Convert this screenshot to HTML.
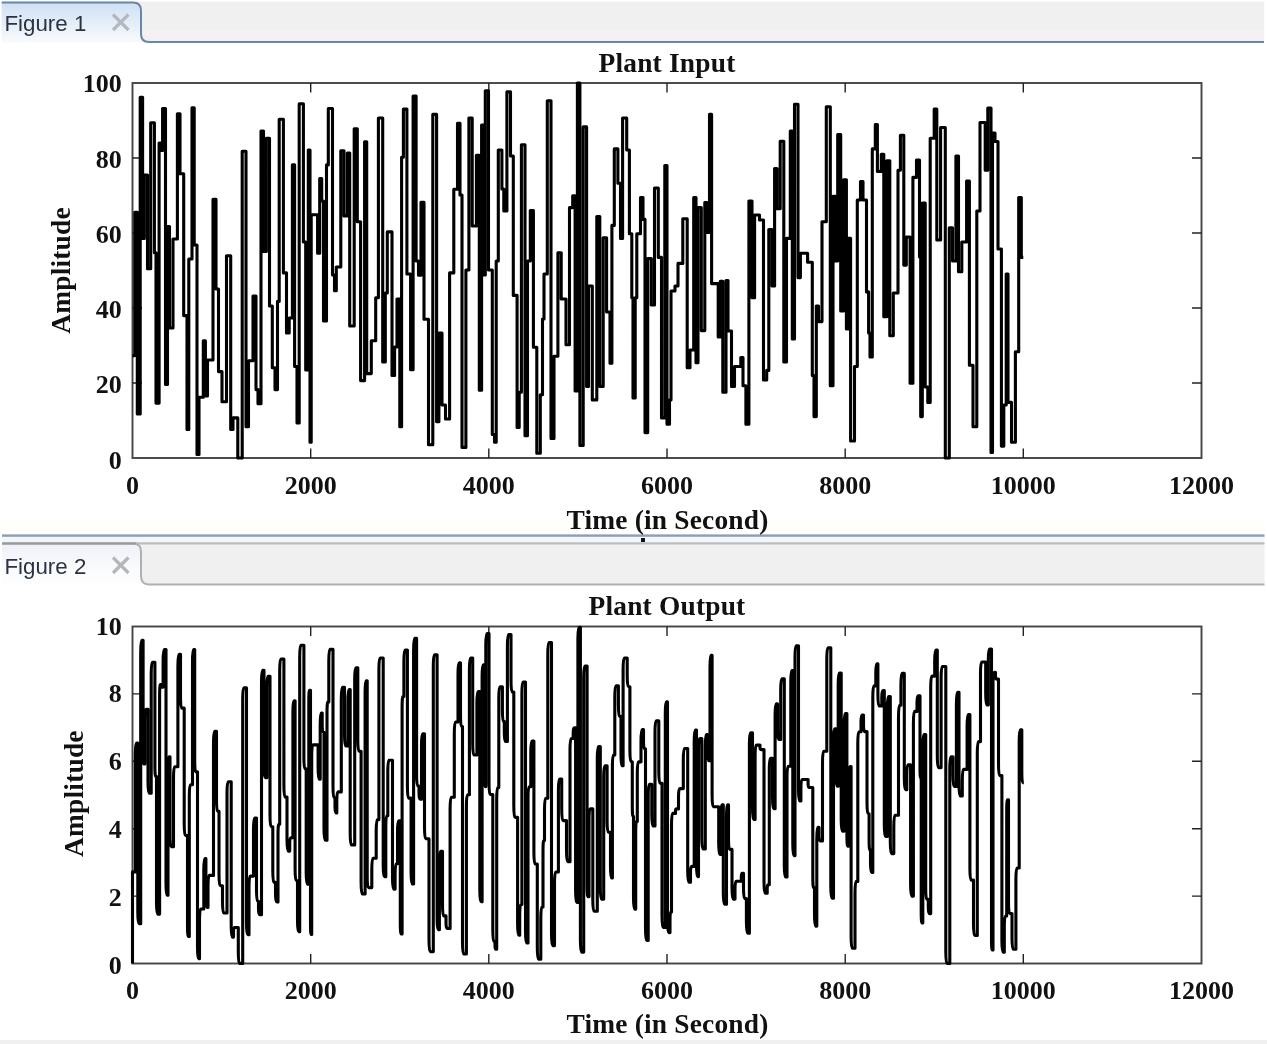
<!DOCTYPE html>
<html><head><meta charset="utf-8"><title>Figures</title>
<style>
html,body{margin:0;padding:0;background:#fff;}
body{width:1267px;height:1044px;overflow:hidden;position:relative;font-family:"Liberation Sans",sans-serif;}
svg{position:absolute;left:0;top:0;display:block}
.tk{font-family:"Liberation Serif",serif;font-weight:bold;font-size:26px;fill:#111}
.lb{font-family:"Liberation Serif",serif;font-weight:bold;font-size:27.4px;letter-spacing:0.2px;fill:#111}
.tab{font-family:"Liberation Sans",sans-serif;font-size:22.3px;fill:#2b3242}
.sig{fill:none;stroke:#000;stroke-width:3.1;stroke-linejoin:round;stroke-linecap:butt}
</style></head><body>
<svg width="1267" height="1044" viewBox="0 0 1267 1044">
<defs>
<linearGradient id="tg" x1="0" y1="0" x2="0" y2="1"><stop offset="0" stop-color="#cfe0f3"/><stop offset="0.75" stop-color="#f4f8fc"/><stop offset="1" stop-color="#ffffff"/></linearGradient>
<linearGradient id="tg2" x1="0" y1="0" x2="0" y2="1"><stop offset="0" stop-color="#eef1f8"/><stop offset="0.6" stop-color="#fbfcfe"/><stop offset="1" stop-color="#ffffff"/></linearGradient>
</defs>
<rect x="0" y="0" width="1267" height="1044" fill="#fff"/>
<!-- tab bar 1 -->
<rect x="1.7" y="1.6" width="1262.5" height="40.4" fill="#f0f0f0"/>
<rect x="141" y="30" width="1123" height="9" fill="#f4f0f3"/>
<path d="M1.7,2.6 H133 Q141,2.6 141,11 V34 Q141,42 149,42 H1264 V50 H1.7 Z" fill="url(#tg)"/>
<rect x="0" y="42.5" width="1264" height="8" fill="#fff"/>
<path d="M1.7,2.6 H133 Q141,2.6 141,11 V34 Q141,42 149,42 H1264" fill="none" stroke="#6886aa" stroke-width="2"/>
<text x="4.5" y="30.8" class="tab">Figure 1</text>
<path d="M113,14.5l15.5,15.5M128.5,14.5l-15.5,15.5" stroke="#b3b9c3" stroke-width="3.2" fill="none"/>
<!-- tab bar 2 -->
<rect x="2" y="521" width="1262.5" height="11" fill="#fffefa"/>
<rect x="2" y="536.5" width="1262.5" height="6" fill="#f1f7fc"/>
<rect x="2" y="534.4" width="1262.5" height="2.4" fill="#8e9cb6"/>
<rect x="2" y="543" width="1262.5" height="41.5" fill="#f0f0f0"/>
<path d="M2,544 H133 Q141,544 141,552 V576 Q141,584 149,584 H1264.5 V592 H2 Z" fill="url(#tg2)"/>
<rect x="0" y="585.2" width="1267" height="8" fill="#fff"/>
<path d="M2,543.4 H1264.5" stroke="#bdbdbd" stroke-width="2.2" fill="none"/>
<path d="M2,543.6 H133 Q141,543.6 141,552 V576 Q141,584.4 149,584.4 H1264.5" fill="none" stroke="#b0b0b0" stroke-width="2"/>
<path d="M2,543.5 H136" stroke="#9a9a9a" stroke-width="2" fill="none"/>
<text x="4.5" y="573.6" class="tab">Figure 2</text>
<path d="M113,557.5l15.5,15.5M128.5,557.5l-15.5,15.5" stroke="#b6b6b6" stroke-width="3.2" fill="none"/>
<rect x="641" y="538" width="4" height="4" fill="#111"/>
<rect x="0" y="1040" width="1267" height="4" fill="#f0f0f0"/>
<!-- plot 1 -->
<rect x="132.5" y="83.0" width="1069.0" height="375.0" fill="#fff" stroke="#444" stroke-width="1.9"/>
<text x="132.5" y="494.1" text-anchor="middle" class="tk">0</text>
<path d="M310.7,458.0v-9.5M310.7,83.0v9.5" stroke="#222" stroke-width="1.4" fill="none"/>
<text x="310.7" y="494.1" text-anchor="middle" class="tk">2000</text>
<path d="M488.8,458.0v-9.5M488.8,83.0v9.5" stroke="#222" stroke-width="1.4" fill="none"/>
<text x="488.8" y="494.1" text-anchor="middle" class="tk">4000</text>
<path d="M667.0,458.0v-9.5M667.0,83.0v9.5" stroke="#222" stroke-width="1.4" fill="none"/>
<text x="667.0" y="494.1" text-anchor="middle" class="tk">6000</text>
<path d="M845.2,458.0v-9.5M845.2,83.0v9.5" stroke="#222" stroke-width="1.4" fill="none"/>
<text x="845.2" y="494.1" text-anchor="middle" class="tk">8000</text>
<path d="M1023.3,458.0v-9.5M1023.3,83.0v9.5" stroke="#222" stroke-width="1.4" fill="none"/>
<text x="1023.3" y="494.1" text-anchor="middle" class="tk">10000</text>
<text x="1201.5" y="494.1" text-anchor="middle" class="tk">12000</text>
<text x="121.8" y="468.5" text-anchor="end" class="tk">0</text>
<path d="M132.5,383.0h9.5M1201.5,383.0h-9.5" stroke="#222" stroke-width="1.4" fill="none"/>
<text x="121.8" y="393.2" text-anchor="end" class="tk">20</text>
<path d="M132.5,308.0h9.5M1201.5,308.0h-9.5" stroke="#222" stroke-width="1.4" fill="none"/>
<text x="121.8" y="318.0" text-anchor="end" class="tk">40</text>
<path d="M132.5,233.0h9.5M1201.5,233.0h-9.5" stroke="#222" stroke-width="1.4" fill="none"/>
<text x="121.8" y="242.7" text-anchor="end" class="tk">60</text>
<path d="M132.5,158.0h9.5M1201.5,158.0h-9.5" stroke="#222" stroke-width="1.4" fill="none"/>
<text x="121.8" y="167.5" text-anchor="end" class="tk">80</text>
<text x="121.8" y="92.2" text-anchor="end" class="tk">100</text>
<text x="667" y="72.4" text-anchor="middle" class="lb">Plant Input</text>
<text x="667.5" y="528.5" text-anchor="middle" class="lb">Time (in Second)</text>
<text transform="translate(70.3,270.5) rotate(-90)" text-anchor="middle" class="lb">Amplitude</text>
<path class="sig" d="M132.5,355.6H134.8V212.3H137.3V414.0H140.2V97.2H142.6V238.4H144.3V175.0H147.5V268.7H150.7V122.8H154.4V252.7H156.0V403.1H159.1V143.0H160.8V150.5H162.6V108.5H165.5V384.5H167.5V226.6H169.5V328.0H173.0V239.0H177.4V113.8H180.0V173.8H183.7V315.6H187.0V429.4H188.8V259.0H192.0V107.9H194.2V245.0H197.0V454.4H199.0V397.3H203.3V340.8H205.4V396.0H207.5V360.0H213.0V199.4H216.0V289.0H218.5V371.6H222.0V401.8H226.5V255.7H230.7V429.4H233.0V417.9H237.8V458.0H242.2V151.3H246.0V426.8H248.5V360.7H253.0V296.0H256.0V389.6H258.0V403.7H261.0V131.0H263.5V251.5H266.3V138.2H269.5V306.0H272.3V367.8H275.0V389.6H277.5V301.4H279.2V119.2H283.4V272.9H286.5V333.0H289.2V318.0H292.4V164.9H294.6V366.5H297.0V423.0H299.2V103.8H303.4V242.0H305.7V370.0H308.3V150.0H310.0V442.2H311.2V214.8H317.6V253.3H319.7V178.6H321.7V201.0H323.5V321.0H326.5V164.9H328.3V108.5H332.5V275.0H334.5V290.7H336.3V267.0H340.8V150.7H344.0V215.9H347.4V153.0H349.7V326.0H354.2V128.7H357.3V221.8H360.6V380.6H364.6V141.8H366.7V373.6H371.3V340.8H375.7V297.8H378.4V118.0H382.7V362.0H385.3V293.0H387.3V231.9H392.0V375.5H394.6V347.0H397.0V299.0H399.8V426.8H401.6V157.2H403.4V109.1H406.9V274.0H410.6V369.7H413.1V96.0H416.1V261.0H418.5V275.3H421.0V202.3H424.0V319.2H428.5V444.8H432.8V114.4H436.6V421.7H438.9V333.0H442.0V405.0H445.5V419.0H449.6V272.9H453.8V189.3H457.5V123.3H460.0V195.0H462.0V447.4H465.9V270.0H468.9V118.0H472.2V226.0H476.4V155.4H479.3V390.3H481.6V125.1H484.3V275.0H485.3V90.7H488.5V270.0H492.3V434.5H494.5V442.2H496.2V261.0H498.3V150.0H501.9V189.0H503.8V211.0H506.9V91.9H510.5V156.0H513.3V295.4H517.1V427.5H519.2V392.2H521.4V144.7H525.0V435.8H527.5V261.0H530.3V210.5H533.4V347.3H536.8V453.2H540.3V394.8H542.5V319.0H544.0V274.0H547.3V100.8H551.0V438.4H554.0V356.2H557.9V252.7H561.2V299.0H566.0V344.7H569.5V207.6H572.7V195.8H575.1V390.9H577.4V83.0H579.9V445.5H583.2V126.9H586.6V386.4H588.5V286.0H592.3V399.9H596.8V216.5H599.8V386.4H603.2V237.8H606.6V312.0H610.0V363.3H611.9V225.4H614.3V148.9H617.9V183.3H620.5V238.4H622.6V118.0H626.7V150.0H629.4V233.7H631.8V297.8H633.0V398.0H635.2V297.8H636.8V233.7H640.5V197.6H643.0V219.4H645.0V432.6H647.7V258.6H651.3V305.0H654.5V188.0H658.3V257.4H661.5V417.9H664.8V165.5H667.0V424.3H669.5V399.9H671.0V291.0H675.0V286.0H678.0V263.4H682.8V218.8H687.2V367.8H690.0V350.0H693.7V197.6H696.0V362.7H698.0V207.6H701.3V330.6H704.8V202.5H707.0V232.5H709.5V114.4H711.6V283.6H718.2V337.0H720.3V281.2H722.8V392.2H726.0V280.6H728.0V331.0H731.5V386.4H734.5V366.5H740.8V357.5H743.0V385.8H745.9V424.3H748.9V201.0H752.0V297.8H754.6V215.0H759.5V220.0H763.5V380.0H766.7V370.4H768.8V229.5H772.0V286.0H774.6V168.5H777.0V208.8H780.2V141.2H783.8V362.0H786.5V238.4H790.3V131.0H792.3V339.0H794.5V104.3H798.0V277.6H800.4V253.3H807.6V262.2H812.3V375.5H814.0V416.6H816.3V306.0H818.5V321.6H822.0V221.8H826.3V106.7H830.3V385.8H833.0V196.4H835.5V261.0H837.7V134.6H840.7V310.9H843.6V179.8H846.4V329.0H848.3V238.4H850.6V441.0H854.5V366.5H857.3V200.0H860.5V181.5H863.0V200.0H866.5V291.9H868.6V333.0H870.0V356.9H872.3V148.9H875.3V124.5H877.4V171.4H881.3V154.2H883.8V316.8H886.8V160.8H889.8V335.7H893.3V293.0H898.0V170.3H900.4V135.2H903.8V265.1H906.3V237.0H910.1V383.2H912.9V177.4H916.5V160.0H919.5V257.0H920.7V416.6H922.3V203.1H925.2V387.0H927.8V402.5H930.2V138.2H934.2V109.1H936.8V240.0H940.6V127.5H945.3V458.0H949.3V227.8H952.5V261.0H955.9V156.0H958.5V271.7H961.8V242.0H966.6V181.0H969.4V365.2H973.0V426.8H976.8V211.0H980.0V122.5H985.2V170.3H987.8V108.1H991.0V452.5H992.5V133.0H995.0V141.5H998.0V249.0H1001.4V446.1H1003.8V405.0H1006.2V274.0H1008.0V402.4H1011.5V442.2H1015.4V351.7H1018.7V197.6H1021.3V257.4H1023.3V257.4"/>
<!-- plot 2 -->
<rect x="132.5" y="626.5" width="1069.0" height="337.0" fill="#fff" stroke="#444" stroke-width="1.9"/>
<text x="132.5" y="999" text-anchor="middle" class="tk">0</text>
<path d="M310.7,963.5v-9.5M310.7,626.5v9.5" stroke="#222" stroke-width="1.4" fill="none"/>
<text x="310.7" y="999" text-anchor="middle" class="tk">2000</text>
<path d="M488.8,963.5v-9.5M488.8,626.5v9.5" stroke="#222" stroke-width="1.4" fill="none"/>
<text x="488.8" y="999" text-anchor="middle" class="tk">4000</text>
<path d="M667.0,963.5v-9.5M667.0,626.5v9.5" stroke="#222" stroke-width="1.4" fill="none"/>
<text x="667.0" y="999" text-anchor="middle" class="tk">6000</text>
<path d="M845.2,963.5v-9.5M845.2,626.5v9.5" stroke="#222" stroke-width="1.4" fill="none"/>
<text x="845.2" y="999" text-anchor="middle" class="tk">8000</text>
<path d="M1023.3,963.5v-9.5M1023.3,626.5v9.5" stroke="#222" stroke-width="1.4" fill="none"/>
<text x="1023.3" y="999" text-anchor="middle" class="tk">10000</text>
<text x="1201.5" y="999" text-anchor="middle" class="tk">12000</text>
<text x="121.8" y="973.5" text-anchor="end" class="tk">0</text>
<path d="M132.5,896.1h9.5M1201.5,896.1h-9.5" stroke="#222" stroke-width="1.4" fill="none"/>
<text x="121.8" y="905.7" text-anchor="end" class="tk">2</text>
<path d="M132.5,828.7h9.5M1201.5,828.7h-9.5" stroke="#222" stroke-width="1.4" fill="none"/>
<text x="121.8" y="837.9" text-anchor="end" class="tk">4</text>
<path d="M132.5,761.3h9.5M1201.5,761.3h-9.5" stroke="#222" stroke-width="1.4" fill="none"/>
<text x="121.8" y="770.2" text-anchor="end" class="tk">6</text>
<path d="M132.5,693.9h9.5M1201.5,693.9h-9.5" stroke="#222" stroke-width="1.4" fill="none"/>
<text x="121.8" y="702.4" text-anchor="end" class="tk">8</text>
<text x="121.8" y="634.6" text-anchor="end" class="tk">10</text>
<text x="667" y="615.2" text-anchor="middle" class="lb">Plant Output</text>
<text x="667.5" y="1033" text-anchor="middle" class="lb">Time (in Second)</text>
<text transform="translate(82.8,793.6) rotate(-90)" text-anchor="middle" class="lb">Amplitude</text>
<path class="sig" d="M132.5,963.5V871.9H135.3V755.0Q135.3,743.0 136.5,743.0H137.8V911.8Q137.8,923.8 139.0,923.8H140.7V652.2Q140.7,640.2 141.9,640.2H143.1V752.0Q143.1,764.0 143.9,764.0H144.8V721.2Q144.8,709.2 146.0,709.2H148.0V781.3Q148.0,793.3 149.2,793.3H151.2V674.3Q151.2,662.3 152.4,662.3H154.9V764.4Q154.9,776.4 155.7,776.4H156.5V902.1Q156.5,914.1 157.7,914.1H159.6V696.5Q159.6,684.5 160.4,684.5H161.3V685.9Q161.3,687.1 162.2,687.1H163.1V661.5Q163.1,649.5 164.3,649.5H166.0V883.3Q166.0,895.3 167.0,895.3H168.0V768.7Q168.0,756.7 169.0,756.7H170.0V834.7Q170.0,846.7 171.2,846.7H173.5V778.7Q173.5,766.7 174.7,766.7H177.9V666.4Q177.9,654.4 179.1,654.4H180.5V696.1Q180.5,708.1 181.7,708.1H184.2V823.5Q184.2,835.5 185.4,835.5H187.5V924.4Q187.5,936.4 188.4,936.4H189.3V796.7Q189.3,784.7 190.5,784.7H192.5V661.6Q192.5,649.6 193.6,649.6H194.7V759.9Q194.7,771.9 195.9,771.9H197.5V946.7Q197.5,958.7 198.5,958.7H199.5V921.0Q199.5,909.0 200.7,909.0H203.8V870.5Q203.8,858.5 204.9,858.5H205.9V895.5Q205.9,907.5 206.9,907.5H208.0V887.4Q208.0,875.4 209.2,875.4H213.5V743.2Q213.5,731.2 214.7,731.2H216.5V799.4Q216.5,811.4 217.7,811.4H219.0V873.8Q219.0,885.8 220.2,885.8H222.5V901.0Q222.5,913.0 223.7,913.0H227.0V793.7Q227.0,781.7 228.2,781.7H231.2V925.1Q231.2,937.1 232.3,937.1H233.5V931.8Q233.5,927.5 234.7,927.5H238.3V951.5Q238.3,963.5 239.5,963.5H242.7V699.9Q242.7,687.9 243.9,687.9H246.5V922.8Q246.5,934.8 247.7,934.8H249.0V888.1Q249.0,876.1 250.2,876.1H253.5V830.0Q253.5,818.0 254.7,818.0H256.5V889.3Q256.5,901.3 257.5,901.3H258.5V908.7Q258.5,914.7 259.7,914.7H261.5V682.3Q261.5,670.3 262.7,670.3H264.0V765.8Q264.0,777.8 265.2,777.8H266.8V688.2Q266.8,676.2 268.0,676.2H270.0V814.7Q270.0,826.7 271.2,826.7H272.8V870.4Q272.8,882.4 274.0,882.4H275.5V893.1Q275.5,902.0 276.7,902.0H278.0V836.2Q278.0,824.2 278.9,824.2H279.7V671.0Q279.7,659.0 280.9,659.0H283.9V785.1Q283.9,797.1 285.1,797.1H287.0V839.1Q287.0,851.1 288.2,851.1H289.7V843.7Q289.7,837.7 290.9,837.7H292.9V712.8Q292.9,700.8 294.0,700.8H295.1V868.7Q295.1,880.7 296.3,880.7H297.5V919.8Q297.5,931.8 298.6,931.8H299.7V657.2Q299.7,645.2 300.9,645.2H303.9V756.9Q303.9,768.9 305.0,768.9H306.2V872.2Q306.2,884.2 307.4,884.2H308.8V702.2Q308.8,690.2 309.6,690.2H310.5V922.4Q310.5,934.4 311.1,934.4H311.7V756.9Q311.7,744.9 312.9,744.9H318.1V767.3Q318.1,779.3 319.1,779.3H320.2V725.0Q320.2,713.0 321.2,713.0H322.2V723.6Q322.2,732.3 323.1,732.3H324.0V828.3Q324.0,840.3 325.2,840.3H327.0V714.0Q327.0,702.0 327.9,702.0H328.8V661.4Q328.8,649.4 330.0,649.4H333.0V785.8Q333.0,797.8 334.0,797.8H335.0V806.1Q335.0,812.9 335.9,812.9H336.8V801.3Q336.8,791.9 338.0,791.9H341.3V699.4Q341.3,687.4 342.5,687.4H344.5V733.9Q344.5,745.9 345.7,745.9H347.9V701.6Q347.9,689.6 349.0,689.6H350.2V832.9Q350.2,844.9 351.4,844.9H354.7V679.7Q354.7,667.7 355.9,667.7H357.8V739.2Q357.8,751.2 359.0,751.2H361.1V881.9Q361.1,893.9 362.3,893.9H365.1V692.8Q365.1,680.8 366.1,680.8H367.2V875.6Q367.2,887.6 368.4,887.6H371.8V870.2Q371.8,858.2 373.0,858.2H376.2V831.6Q376.2,819.6 377.4,819.6H378.9V670.0Q378.9,658.0 380.1,658.0H383.2V864.8Q383.2,876.8 384.4,876.8H385.8V827.7Q385.8,815.7 386.8,815.7H387.8V772.3Q387.8,760.3 389.0,760.3H392.5V877.1Q392.5,889.1 393.7,889.1H395.1V875.2Q395.1,863.8 396.3,863.8H397.5V832.7Q397.5,820.7 398.7,820.7H400.3V921.9Q400.3,933.9 401.2,933.9H402.1V708.5Q402.1,696.5 403.0,696.5H403.9V662.0Q403.9,650.0 405.1,650.0H407.4V786.1Q407.4,798.1 408.6,798.1H411.1V871.9Q411.1,883.9 412.3,883.9H413.6V650.4Q413.6,638.4 414.8,638.4H416.6V774.0Q416.6,786.0 417.8,786.0H419.0V793.3Q419.0,799.3 420.2,799.3H421.5V745.8Q421.5,733.8 422.7,733.8H424.5V826.8Q424.5,838.8 425.7,838.8H429.0V939.6Q429.0,951.6 430.2,951.6H433.3V666.8Q433.3,654.8 434.5,654.8H437.1V917.7Q437.1,929.7 438.2,929.7H439.4V863.2Q439.4,851.2 440.6,851.2H442.5V903.9Q442.5,915.9 443.7,915.9H446.0V922.8Q446.0,928.5 447.2,928.5H450.1V809.2Q450.1,797.2 451.3,797.2H454.3V734.0Q454.3,722.0 455.5,722.0H458.0V674.9Q458.0,662.9 459.2,662.9H460.5V714.6Q460.5,726.6 461.5,726.6H462.5V942.0Q462.5,954.0 463.7,954.0H466.4V806.7Q466.4,794.7 467.6,794.7H469.4V670.0Q469.4,658.0 470.6,658.0H472.7V743.0Q472.7,755.0 473.9,755.0H476.9V703.6Q476.9,691.6 478.1,691.6H479.8V889.8Q479.8,901.8 481.0,901.8H482.1V676.7Q482.1,664.7 483.3,664.7H484.8V774.6Q484.8,786.6 485.3,786.6H485.8V645.5Q485.8,633.5 487.0,633.5H489.0V782.5Q489.0,794.5 490.2,794.5H492.8V929.6Q492.8,941.6 493.9,941.6H495.0V945.8Q495.0,949.2 495.9,949.2H496.7V799.6Q496.7,787.6 497.8,787.6H498.8V698.7Q498.8,686.7 500.0,686.7H502.4V709.4Q502.4,721.4 503.4,721.4H504.3V732.5Q504.3,741.5 505.5,741.5H507.4V646.5Q507.4,634.5 508.6,634.5H511.0V680.0Q511.0,692.0 512.2,692.0H513.8V805.4Q513.8,817.4 515.0,817.4H517.6V923.3Q517.6,935.3 518.7,935.3H519.7V916.5Q519.7,904.5 520.8,904.5H521.9V694.0Q521.9,682.0 523.1,682.0H525.5V930.9Q525.5,942.9 526.7,942.9H528.0V798.7Q528.0,786.7 529.2,786.7H530.8V753.1Q530.8,741.1 532.0,741.1H533.9V852.0Q533.9,864.0 535.1,864.0H537.3V947.2Q537.3,959.2 538.5,959.2H540.8V919.0Q540.8,907.0 541.9,907.0H543.0V852.5Q543.0,840.5 543.8,840.5H544.5V810.2Q544.5,798.2 545.7,798.2H547.8V654.5Q547.8,642.5 549.0,642.5H551.5V933.6Q551.5,945.6 552.7,945.6H554.5V884.0Q554.5,872.0 555.7,872.0H558.4V791.0Q558.4,779.0 559.6,779.0H561.7V808.6Q561.7,820.6 562.9,820.6H566.5V849.7Q566.5,861.7 567.7,861.7H570.0V750.5Q570.0,738.5 571.2,738.5H573.2V732.7Q573.2,727.9 574.4,727.9H575.6V890.5Q575.6,902.5 576.8,902.5H577.9V639.2Q577.9,627.2 579.1,627.2H580.4V940.1Q580.4,952.1 581.6,952.1H583.7V678.0Q583.7,666.0 584.9,666.0H587.1V884.6Q587.1,896.6 588.0,896.6H589.0V820.9Q589.0,808.9 590.2,808.9H592.8V899.3Q592.8,911.3 594.0,911.3H597.3V758.6Q597.3,746.6 598.5,746.6H600.3V887.1Q600.3,899.1 601.5,899.1H603.7V777.7Q603.7,765.7 604.9,765.7H607.1V820.3Q607.1,832.3 608.3,832.3H610.5V865.9Q610.5,877.9 611.5,877.9H612.4V766.9Q612.4,754.9 613.6,754.9H614.8V697.7Q614.8,685.7 616.0,685.7H618.4V704.6Q618.4,716.6 619.6,716.6H621.0V753.8Q621.0,765.8 622.0,765.8H623.1V670.0Q623.1,658.0 624.3,658.0H627.2V674.7Q627.2,686.7 628.4,686.7H629.9V749.7Q629.9,761.7 631.1,761.7H632.3V804.2Q632.3,816.2 632.9,816.2H633.5V897.1Q633.5,909.1 634.6,909.1H635.7V833.5Q635.7,821.5 636.5,821.5H637.3V773.9Q637.3,761.9 638.5,761.9H641.0V741.6Q641.0,729.6 642.2,729.6H643.5V740.2Q643.5,748.9 644.5,748.9H645.5V928.4Q645.5,940.4 646.7,940.4H648.2V796.3Q648.2,784.3 649.4,784.3H651.8V814.0Q651.8,826.0 653.0,826.0H655.0V732.9Q655.0,720.9 656.2,720.9H658.8V771.2Q658.8,783.2 660.0,783.2H662.0V915.4Q662.0,927.4 663.2,927.4H665.3V713.8Q665.3,701.8 666.4,701.8H667.5V920.6Q667.5,932.6 668.7,932.6H670.0V921.2Q670.0,911.9 670.8,911.9H671.5V825.4Q671.5,813.4 672.7,813.4H675.5V811.0Q675.5,808.9 676.7,808.9H678.5V797.8Q678.5,788.6 679.7,788.6H683.3V760.5Q683.3,748.5 684.5,748.5H687.7V870.3Q687.7,882.3 688.9,882.3H690.5V873.6Q690.5,866.4 691.7,866.4H694.2V742.1Q694.2,730.1 695.4,730.1H696.5V864.6Q696.5,876.6 697.5,876.6H698.5V750.5Q698.5,738.5 699.7,738.5H701.8V837.0Q701.8,849.0 703.0,849.0H705.3V746.5Q705.3,734.5 706.4,734.5H707.5V749.0Q707.5,760.8 708.7,760.8H710.0V667.4Q710.0,655.4 711.0,655.4H712.1V794.8Q712.1,806.8 713.3,806.8H718.7V842.4Q718.7,854.4 719.8,854.4H720.8V816.7Q720.8,804.7 722.0,804.7H723.3V892.3Q723.3,904.3 724.5,904.3H726.5V816.9Q726.5,804.9 727.5,804.9H728.5V837.4Q728.5,849.4 729.7,849.4H732.0V887.1Q732.0,899.1 733.2,899.1H735.0V889.3Q735.0,881.3 736.2,881.3H741.3V876.8Q741.3,873.2 742.4,873.2H743.5V887.2Q743.5,898.6 744.7,898.6H746.4V921.2Q746.4,933.2 747.6,933.2H749.4V744.7Q749.4,732.7 750.6,732.7H752.5V807.4Q752.5,819.4 753.7,819.4H755.1V757.1Q755.1,745.1 756.3,745.1H760.0V747.6Q760.0,749.6 761.2,749.6H764.0V881.3Q764.0,893.3 765.2,893.3H767.2V888.7Q767.2,884.8 768.2,884.8H769.3V770.2Q769.3,758.2 770.5,758.2H772.5V796.8Q772.5,808.8 773.7,808.8H775.1V715.7Q775.1,703.7 776.3,703.7H777.5V727.5Q777.5,739.5 778.7,739.5H780.7V690.8Q780.7,678.8 781.9,678.8H784.3V864.9Q784.3,876.9 785.5,876.9H787.0V778.2Q787.0,766.2 788.2,766.2H790.8V682.5Q790.8,670.5 791.8,670.5H792.8V843.6Q792.8,855.6 793.9,855.6H795.0V657.7Q795.0,645.7 796.2,645.7H798.5V788.9Q798.5,800.9 799.7,800.9H800.9V789.1Q800.9,779.5 802.1,779.5H808.1V783.9Q808.1,787.5 809.3,787.5H812.8V875.6Q812.8,887.6 813.6,887.6H814.5V914.1Q814.5,926.1 815.6,926.1H816.8V839.4Q816.8,827.4 817.9,827.4H819.0V834.8Q819.0,840.9 820.2,840.9H822.5V763.2Q822.5,751.2 823.7,751.2H826.8V659.8Q826.8,647.8 828.0,647.8H830.8V886.2Q830.8,898.2 832.0,898.2H833.5V740.9Q833.5,728.9 834.7,728.9H836.0V774.2Q836.0,786.2 837.1,786.2H838.2V685.0Q838.2,673.0 839.4,673.0H841.2V819.1Q841.2,831.1 842.4,831.1H844.1V725.6Q844.1,713.6 845.3,713.6H846.9V834.1Q846.9,846.1 847.8,846.1H848.8V778.5Q848.8,766.5 850.0,766.5H851.1V936.2Q851.1,948.2 852.3,948.2H855.0V893.4Q855.0,881.4 856.2,881.4H857.8V743.7Q857.8,731.7 859.0,731.7H861.0V722.6Q861.0,715.1 862.2,715.1H863.5V724.2Q863.5,731.6 864.7,731.6H867.0V801.7Q867.0,813.7 868.0,813.7H869.1V837.8Q869.1,849.8 869.8,849.8H870.5V862.3Q870.5,872.5 871.6,872.5H872.8V697.9Q872.8,685.9 874.0,685.9H875.8V673.8Q875.8,663.9 876.8,663.9H877.9V693.9Q877.9,705.9 879.1,705.9H881.8V697.5Q881.8,690.5 883.0,690.5H884.3V824.5Q884.3,836.5 885.5,836.5H887.3V708.5Q887.3,696.5 888.5,696.5H890.3V841.6Q890.3,853.6 891.5,853.6H893.8V827.2Q893.8,815.2 895.0,815.2H898.5V717.3Q898.5,705.3 899.7,705.3H900.9V685.4Q900.9,673.4 902.1,673.4H904.3V777.8Q904.3,789.8 905.5,789.8H906.8V776.1Q906.8,764.9 908.0,764.9H910.6V884.1Q910.6,896.1 911.8,896.1H913.4V723.4Q913.4,711.4 914.6,711.4H917.0V702.8Q917.0,695.7 918.2,695.7H920.0V765.9Q920.0,777.9 920.6,777.9H921.2V911.0Q921.2,923.0 922.0,923.0H922.8V746.6Q922.8,734.6 924.0,734.6H925.7V887.4Q925.7,899.4 926.9,899.4H928.3V907.2Q928.3,913.6 929.5,913.6H930.7V688.1Q930.7,676.1 931.9,676.1H934.7V661.8Q934.7,650.0 935.9,650.0H937.3V755.6Q937.3,767.6 938.5,767.6H941.1V678.5Q941.1,666.5 942.3,666.5H945.8V951.5Q945.8,963.5 947.0,963.5H949.8V768.7Q949.8,756.7 951.0,756.7H953.0V774.5Q953.0,786.5 954.2,786.5H956.4V704.3Q956.4,692.3 957.6,692.3H959.0V784.0Q959.0,796.0 960.2,796.0H962.3V781.4Q962.3,769.4 963.5,769.4H967.1V726.6Q967.1,714.6 968.3,714.6H969.9V868.1Q969.9,880.1 971.1,880.1H973.5V923.5Q973.5,935.5 974.7,935.5H977.3V753.6Q977.3,741.6 978.5,741.6H980.5V674.0Q980.5,662.0 981.7,662.0H985.7V692.9Q985.7,704.9 986.9,704.9H988.3V661.1Q988.3,649.1 989.5,649.1H991.5V937.9Q991.5,949.9 992.2,949.9H993.0V684.2Q993.0,672.2 994.2,672.2H995.5V676.0Q995.5,679.1 996.7,679.1H998.5V763.6Q998.5,775.6 999.7,775.6H1001.9V940.2Q1001.9,952.2 1003.1,952.2H1004.3V928.0Q1004.3,916.0 1005.5,916.0H1006.7V811.8Q1006.7,799.8 1007.6,799.8H1008.5V901.5Q1008.5,913.5 1009.7,913.5H1012.0V937.3Q1012.0,949.3 1013.2,949.3H1015.9V880.0Q1015.9,868.0 1017.1,868.0H1019.2V741.8Q1019.2,729.8 1020.4,729.8H1021.8V770.8Q1021.8,782.8 1022.8,782.8H1023.8"/>
</svg>
</body></html>
